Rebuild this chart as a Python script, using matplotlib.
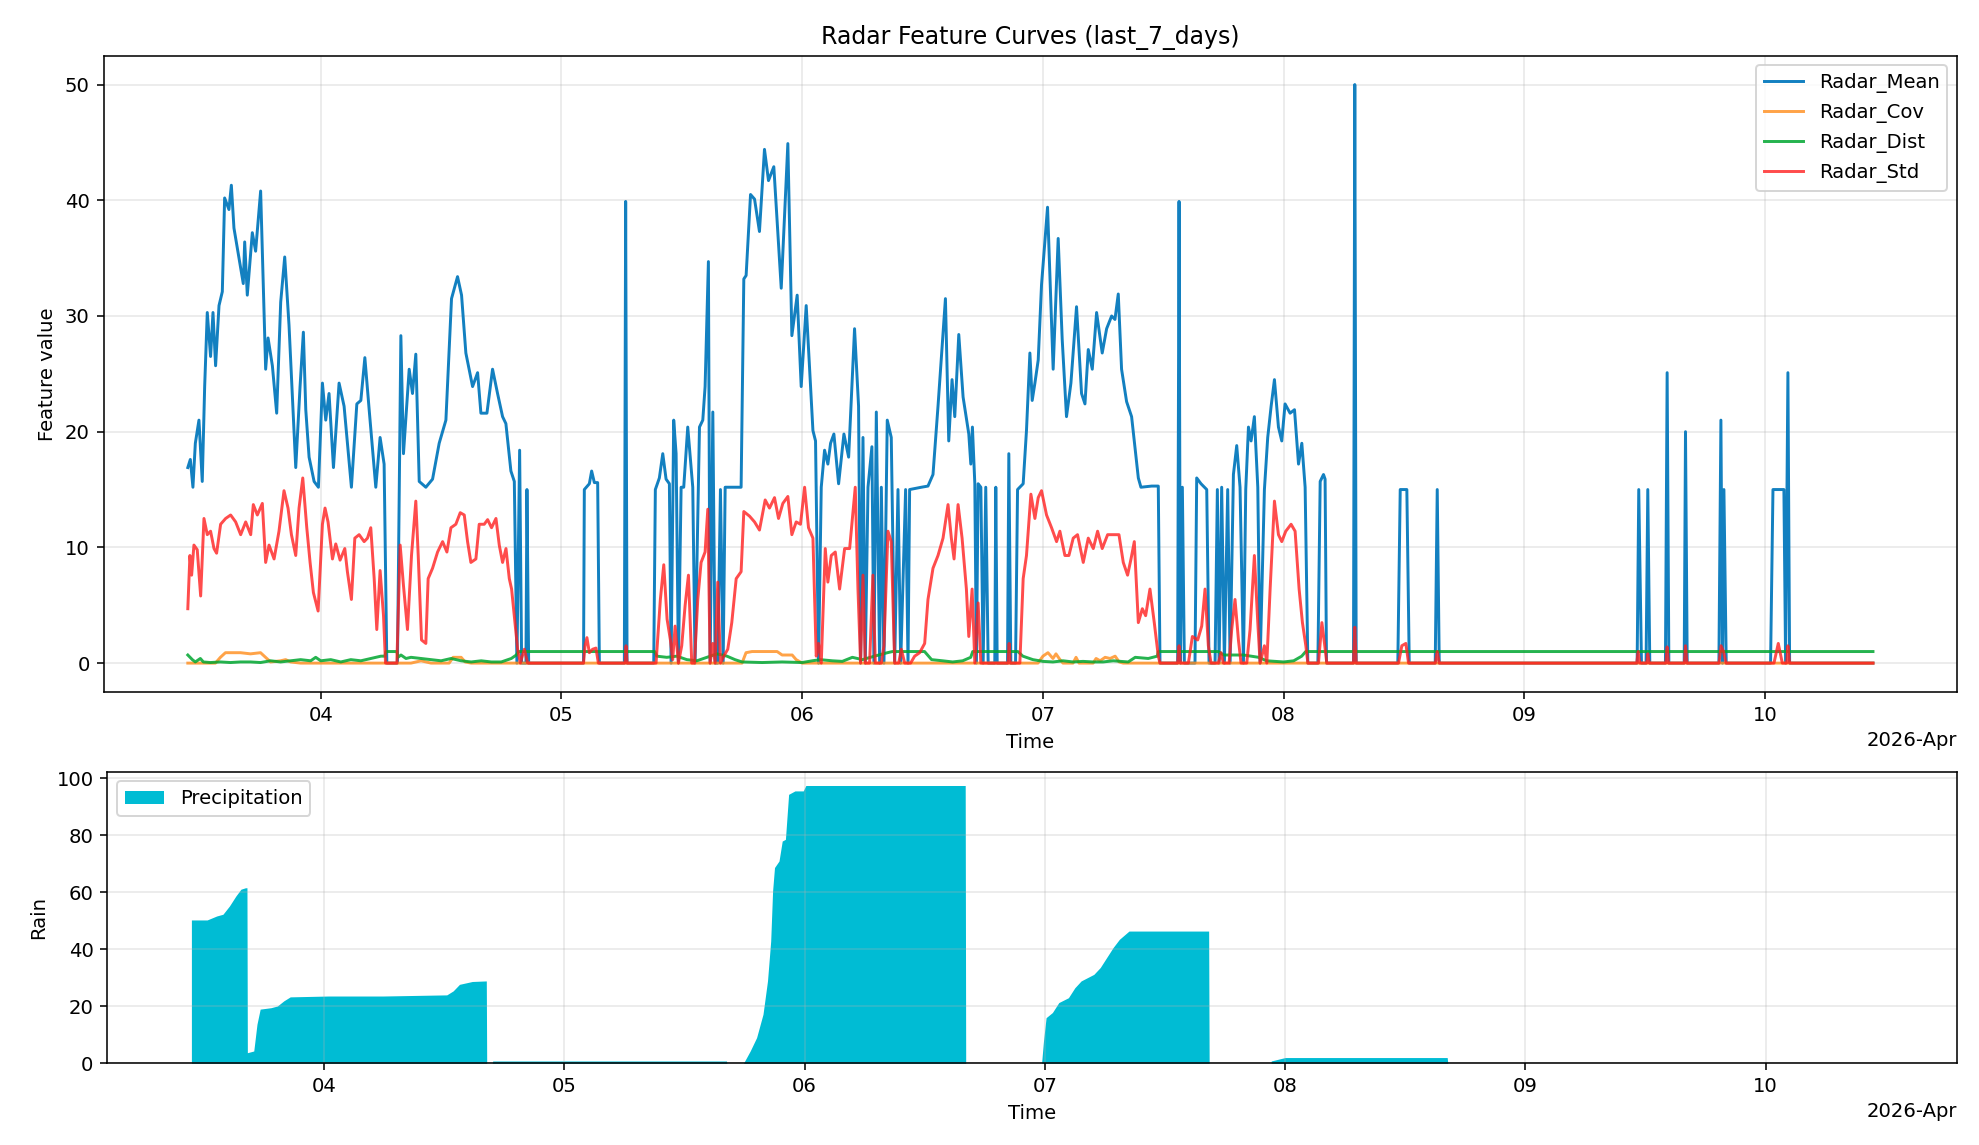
import pandas as pd
import matplotlib
matplotlib.use('Agg')
import matplotlib.pyplot as plt
import matplotlib.dates as mdates

# hours since 2026-04-03 00:00
radar_mean = [
    (10.75, 16.9), (11.0, 17.6), (11.26, 15.2), (11.5, 19.0), (11.86, 21.0), (12.19, 15.7), (12.43, 23.9),
    (12.69, 30.3), (13.02, 26.5), (13.26, 30.3), (13.52, 25.7), (13.86, 30.9), (14.19, 32.1), (14.42, 40.2),
    (14.85, 39.2), (15.09, 41.3), (15.35, 37.6), (15.85, 35.0), (16.28, 32.8), (16.42, 36.4), (16.68, 31.8),
    (17.18, 37.2), (17.51, 35.6), (18.01, 40.8), (18.51, 25.4), (18.75, 28.1), (19.18, 25.7), (19.61, 21.6),
    (20.01, 31.2), (20.41, 35.1), (20.84, 29.2), (21.51, 16.9), (21.94, 23.9), (22.27, 28.6), (22.51, 21.9),
    (22.84, 17.8), (23.34, 15.7), (23.77, 15.2), (24.17, 24.2), (24.5, 21.0), (24.83, 23.3), (25.27, 16.9),
    (25.83, 24.2), (26.33, 22.2), (27.06, 15.2), (27.6, 22.4), (28.0, 22.7), (28.4, 26.4), (28.83, 21.9),
    (29.49, 15.2), (29.92, 19.5), (30.32, 17.2), (30.59, 0), (31.65, 0), (31.99, 28.3), (32.25, 18.1),
    (32.59, 22.4), (32.82, 25.4), (33.15, 23.3), (33.48, 26.7), (33.82, 15.7), (34.48, 15.2), (35.15, 15.9),
    (35.81, 19.0), (36.48, 21.0), (37.04, 31.5), (37.64, 33.4), (38.04, 31.8), (38.47, 26.8), (39.14, 23.9),
    (39.64, 25.1), (39.97, 21.6), (40.57, 21.6), (41.13, 25.4), (41.63, 23.3), (42.13, 21.3), (42.46, 20.7),
    (42.96, 16.6), (43.3, 15.7), (43.56, 0), (43.83, 18.4), (44.03, 0), (44.46, 0), (44.56, 15.0), (44.73, 0),
    (50.2, 0), (50.28, 15.0), (50.78, 15.5), (51.01, 16.6), (51.28, 15.6), (51.61, 15.6), (51.78, 0),
    (54.27, 0), (54.4, 39.9), (54.54, 0), (57.2, 0), (57.36, 15.0), (57.76, 16.0), (58.1, 18.1), (58.43, 15.9),
    (58.76, 15.5), (58.93, 0), (59.19, 21.0), (59.43, 18.1), (59.66, 0), (59.93, 15.2), (60.19, 15.2),
    (60.59, 20.4), (61.09, 15.2), (61.32, 0), (61.76, 20.4), (62.09, 21.0), (62.32, 23.9), (62.65, 34.7),
    (62.82, 0), (63.09, 21.7), (63.32, 0), (63.58, 0), (63.85, 15.0), (64.12, 0), (64.32, 15.2), (65.91, 15.2),
    (66.18, 33.2), (66.41, 33.5), (66.85, 40.5), (67.25, 40.1), (67.74, 37.3), (68.24, 44.4), (68.64, 41.7),
    (69.17, 42.9), (69.91, 32.4), (70.57, 44.9), (70.97, 28.3), (71.5, 31.8), (71.9, 23.9), (72.4, 30.9),
    (73.07, 20.1), (73.33, 19.2), (73.63, 0), (73.9, 15.2), (74.23, 18.4), (74.56, 17.2), (74.83, 19.0),
    (75.16, 19.8), (75.63, 15.5), (76.16, 19.8), (76.63, 17.8), (77.22, 28.9), (77.62, 22.2), (77.82, 0),
    (78.06, 19.5), (78.29, 0), (78.56, 15.2), (78.95, 18.7), (79.15, 0), (79.39, 21.7), (79.72, 0),
    (79.89, 15.2), (80.15, 0), (80.48, 21.0), (80.88, 19.5), (81.22, 0), (81.55, 15.0), (81.82, 0),
    (82.31, 15.0), (82.55, 0), (82.71, 15.0), (83.88, 15.2), (84.54, 15.3), (85.04, 16.3), (85.54, 22.2),
    (86.28, 31.5), (86.61, 19.2), (86.94, 24.5), (87.21, 21.3), (87.61, 28.4), (88.04, 23.0), (88.61, 19.8),
    (88.81, 17.2), (88.97, 20.4), (89.21, 15.5), (89.37, 0), (89.54, 15.5), (89.81, 15.2), (90.04, 0),
    (90.3, 15.2), (90.54, 0), (91.2, 0), (91.3, 15.2), (91.44, 0), (92.47, 0), (92.6, 18.1), (92.8, 0),
    (93.27, 0), (93.47, 15.0), (94.03, 15.5), (94.36, 20.1), (94.7, 26.8), (94.93, 22.7), (95.2, 24.2),
    (95.53, 26.2), (95.86, 32.7), (96.46, 39.4), (97.02, 25.4), (97.52, 36.7), (97.92, 28.0), (98.35, 21.3),
    (98.79, 24.2), (99.35, 30.8), (99.85, 23.3), (100.19, 22.4), (100.52, 27.1), (100.92, 25.4),
    (101.35, 30.3), (101.91, 26.8), (102.35, 28.9), (102.85, 30.0), (103.18, 29.7), (103.51, 31.9),
    (103.84, 25.4), (104.34, 22.6), (104.84, 21.3), (105.51, 16.0), (105.77, 15.2), (106.84, 15.3),
    (107.5, 15.3), (107.67, 0), (109.43, 0), (109.57, 39.9), (109.7, 0), (109.9, 15.2), (110.1, 0),
    (111.16, 0), (111.33, 16.0), (111.76, 15.5), (112.33, 15.0), (112.56, 0), (113.16, 0), (113.39, 15.0),
    (113.56, 0), (113.82, 15.2), (114.09, 0), (114.42, 15.0), (114.66, 0), (114.99, 16.3), (115.32, 18.8),
    (115.65, 15.2), (115.99, 0), (116.22, 15.0), (116.49, 20.4), (116.75, 19.2), (117.08, 21.3),
    (117.42, 15.2), (117.65, 0), (118.08, 15.0), (118.41, 19.5), (118.75, 22.2), (119.08, 24.5),
    (119.48, 20.4), (119.81, 19.2), (120.14, 22.4), (120.64, 21.6), (121.08, 21.9), (121.48, 17.2),
    (121.81, 19.0), (122.14, 15.2), (122.41, 0), (123.41, 0), (123.64, 15.7), (123.97, 16.3), (124.13, 15.9),
    (124.27, 0), (126.96, 0), (127.09, 50.0), (127.23, 0), (131.38, 0), (131.62, 15.0), (132.28, 15.0),
    (132.52, 0), (135.11, 0), (135.31, 15.0), (135.51, 0), (155.24, 0), (155.4, 15.0), (155.67, 0),
    (156.13, 0), (156.3, 15.0), (156.5, 0), (158.06, 0), (158.23, 25.1), (158.4, 0), (159.93, 0),
    (160.06, 20.0), (160.23, 0), (163.39, 0), (163.59, 21.0), (163.75, 0), (163.89, 15.0), (164.12, 0),
    (168.54, 0), (168.78, 15.0), (169.87, 15.0), (170.04, 0), (170.27, 25.1), (170.44, 0), (178.75, 0),
]

radar_cov = [
    (10.75, 0), (13.5, 0), (14.0, 0.5), (14.5, 0.9), (16.0, 0.9), (17.0, 0.8), (18.0, 0.9), (18.5, 0.5),
    (19.0, 0.1), (20.0, 0.2), (20.5, 0.3), (21.0, 0.1), (22.0, 0), (33.0, 0), (34.0, 0.2), (35.0, 0),
    (36.8, 0), (37.2, 0.5), (38.0, 0.5), (38.4, 0.1), (39.0, 0), (66.0, 0), (66.4, 0.9), (67.0, 1.0),
    (69.5, 1.0), (70.0, 0.7), (71.0, 0.7), (71.4, 0.3), (72.0, 0), (95.5, 0), (96.0, 0.6), (96.5, 0.9),
    (97.0, 0.4), (97.3, 0.8), (97.7, 0.3), (98.0, 0), (99.0, 0), (99.3, 0.5), (99.6, 0), (101.0, 0),
    (101.3, 0.4), (101.7, 0.2), (102.2, 0.5), (102.7, 0.4), (103.2, 0.6), (103.6, 0.1), (104.0, 0),
    (178.75, 0),
]

radar_dist = [
    (10.75, 0.7), (11.2, 0.3), (11.5, 0.1), (12.0, 0.4), (12.3, 0.1), (13.0, 0.05), (14.0, 0.1), (15.0, 0.05),
    (16.0, 0.1), (17.0, 0.1), (18.0, 0.05), (19.0, 0.2), (20.0, 0.1), (21.0, 0.2), (22.0, 0.3), (23.0, 0.2),
    (23.5, 0.5), (24.0, 0.2), (25.0, 0.3), (26.0, 0.1), (27.0, 0.3), (28.0, 0.2), (29.0, 0.4), (30.0, 0.6),
    (30.4, 0.6), (30.5, 1.0), (31.6, 1.0), (31.7, 0.5), (32.0, 0.7), (32.5, 0.4), (33.0, 0.5), (34.0, 0.4),
    (35.0, 0.3), (36.0, 0.2), (37.0, 0.4), (38.0, 0.2), (39.0, 0.1), (40.0, 0.2), (41.0, 0.1), (42.0, 0.1),
    (43.0, 0.4), (43.5, 0.7), (43.7, 1.0), (57.3, 1.0), (57.5, 0.6), (58.5, 0.5), (59.5, 0.6), (60.5, 0.3),
    (61.5, 0.2), (62.5, 0.5), (63.5, 0.8), (64.5, 0.6), (65.3, 0.3), (66.0, 0.1), (68.0, 0.05), (70.0, 0.1),
    (72.0, 0.05), (73.0, 0.2), (73.8, 0.3), (75.0, 0.2), (76.0, 0.15), (77.0, 0.5), (78.0, 0.3), (79.2, 0.6),
    (80.5, 0.9), (81.0, 1.0), (84.2, 1.0), (84.9, 0.3), (86.0, 0.2), (87.0, 0.1), (88.0, 0.2), (88.8, 0.5),
    (89.0, 1.0), (93.5, 1.0), (94.0, 0.6), (95.0, 0.3), (96.0, 0.15), (97.0, 0.1), (98.0, 0.2), (99.0, 0.1),
    (100.0, 0.15), (101.0, 0.1), (102.0, 0.1), (103.0, 0.2), (104.5, 0.1), (105.2, 0.5), (106.5, 0.4),
    (107.4, 0.6), (107.5, 1.0), (113.5, 1.0), (114.0, 0.7), (116.0, 0.7), (117.5, 0.5), (118.3, 0.2),
    (120.0, 0.1), (121.0, 0.2), (121.8, 0.6), (122.2, 1.0), (178.75, 1.0),
]

radar_std = [
    (10.75, 4.7), (10.96, 9.3), (11.13, 7.6), (11.36, 10.2), (11.69, 9.8), (12.03, 5.8), (12.36, 12.5),
    (12.69, 11.1), (13.02, 11.4), (13.36, 9.9), (13.62, 9.5), (14.02, 12.0), (14.52, 12.5), (15.02, 12.8),
    (15.52, 12.2), (16.02, 11.1), (16.52, 12.2), (17.02, 11.1), (17.28, 13.7), (17.68, 12.8), (18.18, 13.8),
    (18.51, 8.7), (18.85, 10.2), (19.35, 9.0), (19.84, 11.4), (20.34, 14.9), (20.74, 13.4), (21.08, 11.1),
    (21.51, 9.3), (21.84, 13.4), (22.21, 16.0), (22.61, 11.7), (22.94, 8.7), (23.27, 6.1), (23.74, 4.5),
    (24.17, 12.0), (24.43, 13.4), (24.73, 12.2), (25.17, 9.0), (25.5, 10.3), (25.93, 8.9), (26.4, 9.9),
    (26.66, 7.9), (27.06, 5.5), (27.4, 10.8), (27.83, 11.1), (28.33, 10.5), (28.66, 10.8), (28.99, 11.7),
    (29.33, 7.3), (29.59, 2.9), (29.92, 8.0), (30.26, 4.1), (30.46, 0), (31.59, 0), (31.92, 10.2),
    (32.25, 6.7), (32.65, 2.9), (33.05, 9.3), (33.48, 14.0), (33.72, 9.3), (34.05, 2.0), (34.48, 1.7),
    (34.71, 7.3), (35.15, 8.2), (35.65, 9.6), (36.15, 10.5), (36.58, 9.6), (36.98, 11.7), (37.47, 12.0),
    (37.91, 13.0), (38.31, 12.8), (38.64, 10.5), (38.97, 8.7), (39.47, 9.0), (39.8, 12.0), (40.3, 12.0),
    (40.64, 12.4), (41.03, 11.7), (41.47, 12.5), (41.8, 10.2), (42.13, 8.7), (42.47, 9.9), (42.8, 7.3),
    (43.03, 6.4), (43.3, 4.1), (43.63, 1.2), (43.9, 0), (44.3, 1.2), (44.63, 0),
    (50.2, 0), (50.35, 1.5), (50.54, 2.2), (50.78, 0.9), (51.11, 1.2), (51.44, 1.3), (51.68, 0), (54.34, 0),
    (54.44, 1.5), (54.54, 0), (57.43, 0), (57.86, 5.5), (58.2, 8.5), (58.53, 3.8), (58.86, 2.0), (59.09, 0.3),
    (59.33, 3.2), (59.66, 0), (59.99, 1.5), (60.33, 5.0), (60.66, 7.6), (60.99, 0), (61.26, 0), (61.59, 5.5),
    (61.92, 8.7), (62.32, 9.6), (62.59, 13.3), (62.82, 0), (63.09, 1.7), (63.32, 0), (63.58, 7.0), (63.85, 0),
    (64.18, 0.6), (64.58, 1.2), (64.98, 3.5), (65.42, 7.3), (65.91, 7.9), (66.18, 13.1), (66.75, 12.7),
    (67.25, 12.2), (67.74, 11.5), (68.31, 14.1), (68.74, 13.4), (69.24, 14.3), (69.64, 12.5), (70.07, 13.8),
    (70.57, 14.4), (70.97, 11.1), (71.4, 12.2), (71.83, 12.0), (72.24, 15.2), (72.63, 11.7), (73.07, 10.8),
    (73.4, 0.6), (73.63, 1.7), (73.9, 0), (74.3, 9.9), (74.56, 7.0), (74.9, 9.3), (75.3, 9.6), (75.73, 6.4),
    (76.23, 9.9), (76.73, 9.9), (77.29, 15.2), (77.56, 6.4), (77.82, 0), (78.06, 7.6), (78.29, 0), (78.72, 0),
    (79.05, 7.6), (79.29, 0), (79.89, 0), (80.15, 1.5), (80.55, 11.4), (80.88, 10.5), (81.22, 0), (81.62, 0),
    (81.88, 1.2), (82.22, 0), (82.81, 0), (83.21, 0.6), (83.71, 0.9), (84.21, 1.7), (84.54, 5.5), (85.04, 8.2),
    (85.54, 9.3), (86.04, 10.8), (86.54, 13.7), (86.87, 10.8), (87.14, 9.0), (87.54, 13.7), (87.94, 10.8),
    (88.37, 6.4), (88.61, 2.3), (88.94, 6.4), (89.21, 0), (89.54, 5.2), (89.81, 0), (92.53, 0), (92.63, 1.7),
    (92.73, 0), (93.7, 0), (94.03, 7.3), (94.36, 9.3), (94.8, 14.6), (95.2, 12.5), (95.53, 14.3), (95.86, 14.9),
    (96.36, 12.8), (96.86, 11.7), (97.36, 10.5), (97.69, 11.4), (98.19, 9.3), (98.59, 9.3), (99.02, 10.8),
    (99.45, 11.1), (100.02, 8.7), (100.52, 10.8), (101.02, 9.9), (101.45, 11.4), (101.91, 9.9), (102.45, 11.1),
    (103.01, 11.1), (103.58, 11.1), (104.01, 8.7), (104.44, 7.6), (104.78, 9.0), (105.11, 10.5), (105.51, 3.5),
    (105.91, 4.7), (106.24, 4.1), (106.67, 6.4), (107.1, 3.5), (107.5, 0.6), (107.67, 0), (109.43, 0),
    (109.57, 1.5), (109.7, 0), (110.5, 0), (110.9, 2.3), (111.43, 2.0), (111.83, 3.2), (112.16, 6.4),
    (112.49, 1.5), (112.76, 0), (113.49, 0), (113.76, 0.9), (113.99, 0), (114.56, 0), (114.82, 2.9),
    (115.15, 5.5), (115.49, 2.0), (115.75, 0), (116.32, 0), (116.65, 2.9), (117.08, 9.3), (117.42, 3.5),
    (117.65, 0), (118.08, 1.5), (118.32, 0), (118.65, 6.4), (119.08, 14.0), (119.48, 11.1), (119.81, 10.5),
    (120.21, 11.4), (120.74, 12.0), (121.14, 11.4), (121.54, 6.4), (121.87, 3.5), (122.21, 1.5), (122.41, 0),
    (123.47, 0), (123.81, 3.5), (124.07, 1.7), (124.3, 0), (126.96, 0), (127.09, 3.1), (127.23, 0),
    (131.45, 0), (131.78, 1.5), (132.18, 1.7), (132.45, 0), (135.11, 0), (135.31, 1.0), (135.51, 0),
    (155.2, 0), (155.34, 1.0), (155.5, 0), (156.2, 0), (156.3, 0.8), (156.45, 0), (158.1, 0), (158.23, 1.4),
    (158.36, 0), (159.95, 0), (160.06, 1.5), (160.2, 0), (163.4, 0), (163.6, 1.5), (163.85, 1.0), (164.1, 0),
    (168.88, 0), (169.31, 1.7), (169.71, 0), (170.15, 0), (170.27, 1.5), (170.44, 0), (178.75, 0),
]

precipitation = [
    (10.75, 50.3), (12.32, 50.3), (13.28, 51.7), (13.9, 52.3), (14.55, 55.2), (15.19, 58.7), (15.7, 61.1),
    (16.15, 61.6), (16.3, 61.6), (16.34, 3.7), (16.98, 4.3), (17.3, 13.7), (17.62, 19.0), (18.7, 19.5),
    (19.34, 20.1), (19.98, 21.9), (20.62, 23.3), (24.45, 23.6), (29.87, 23.6), (36.26, 24.0), (36.9, 25.4),
    (37.53, 27.7), (38.81, 28.7), (40.21, 28.9), (40.25, 0), (40.8, 0), (40.85, 0.8), (64.2, 0.8),
    (64.25, 0), (65.9, 0), (66.57, 4.3), (67.21, 9.0), (67.85, 17.2), (68.3, 28.9), (68.62, 42.9),
    (68.81, 60.5), (69.0, 68.7), (69.45, 71.0), (69.77, 78.0), (70.09, 78.6), (70.41, 94.4), (71.04, 95.6),
    (71.87, 95.6), (72.13, 97.5), (88.05, 97.5), (88.1, 0), (95.68, 0), (95.87, 7.8), (96.13, 16.0),
    (96.76, 17.8), (97.4, 21.3), (98.36, 23.0), (99.0, 26.5), (99.63, 28.9), (100.9, 31.2), (101.54, 33.6),
    (102.18, 37.1), (102.82, 40.6), (103.45, 43.5), (104.41, 46.4), (112.37, 46.4), (112.42, 0),
    (118.6, 0), (118.62, 0.8), (120.01, 2.0), (136.2, 2.0), (136.26, 0), (178.75, 0),
]

base_time = pd.Timestamp('2026-04-03')


def to_series(points):
    hours = [p[0] for p in points]
    vals = [p[1] for p in points]
    return base_time + pd.to_timedelta(hours, unit='h'), vals


radar_series = [
    ('Radar_Mean', radar_mean, '#0679bd', 0.95),
    ('Radar_Cov', radar_cov, '#ff8c1a', 0.8),
    ('Radar_Dist', radar_dist, '#00a630', 0.85),
    ('Radar_Std', radar_std, '#ff1f1f', 0.8),
]

fig = plt.figure(figsize=(14, 8.096), dpi=1980 / 14)
ax1 = fig.add_axes([0.0523, 0.3956, 0.9362, 0.5558])
ax2 = fig.add_axes([0.0542, 0.0714, 0.9343, 0.2547])

for name, pts, color, alpha in radar_series:
    t, v = to_series(pts)
    ax1.plot(t, v, color=color, alpha=alpha, lw=1.5, label=name)

ax1.set_title('Radar Feature Curves (last_7_days)')
ax1.set_xlabel('Time')
ax1.set_ylabel('Feature value')
ax1.legend(loc='upper right')
ax1.grid(True, alpha=0.3)

t, v = to_series(precipitation)
ax2.fill_between(t, 0, v, color='#00bcd4', lw=0, label='Precipitation')
ax2.set_ylim(bottom=0)
ax2.set_xlim(ax1.get_xlim())
ax2.set_xlabel('Time')
ax2.set_ylabel('Rain')
ax2.legend(loc='upper left')
ax2.grid(True, alpha=0.3)

for ax in (ax1, ax2):
    ax.xaxis.set_major_locator(mdates.DayLocator())
    ax.xaxis.set_major_formatter(mdates.ConciseDateFormatter(mdates.DayLocator()))

fig.savefig('out.png', dpi=1980 / 14)
